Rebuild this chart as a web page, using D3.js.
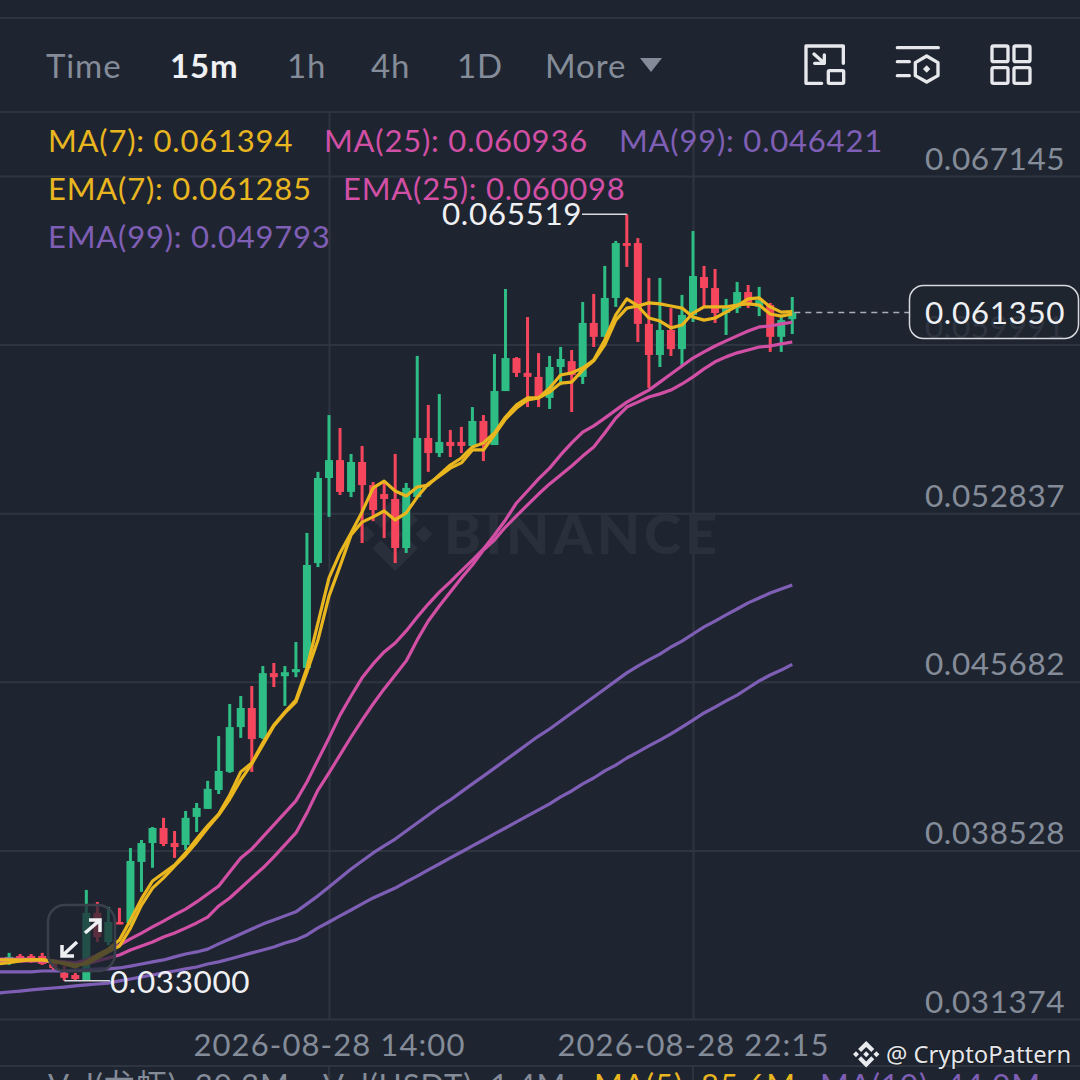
<!DOCTYPE html>
<html>
<head>
<meta charset="utf-8">
<script src="https://cdn.jsdelivr.net/npm/d3@7"></script>
<style>
  html, body { margin: 0; padding: 0; background: #1f2530; overflow: hidden; }
  text { font-family: Lato, "Noto Sans CJK SC", sans-serif; }
</style>
</head>
<body>
<div id="chart"></div>
<script>
// 15m candles, first one is 14:00 minus 30 bars
var open = [0.03392,
  0.03380,0.03405,0.03405,0.03405,0.03371,0.03333,0.03324,0.03303,0.03588,0.03464,
  0.03549,0.03545,0.03804,0.03884,0.03948,0.03884,0.03876,0.03995,0.04029,0.04109,
  0.04186,0.04376,0.04457,0.04330,0.04605,0.04592,0.04609,0.04627,0.05072,0.05433,
  0.05509,0.05374,0.05501,0.05403,0.05365,0.05344,0.05136,0.05352,0.05603,0.05539,
  0.05586,0.05586,0.05569,0.05675,0.05573,0.05802,0.05942,0.05879,0.05862,0.05773,
  0.05904,0.05929,0.05862,0.06091,0.06032,0.06197,0.06430,0.06430,0.06087,0.05955,
  0.06061,0.05980,0.06125,0.06286,0.06239,0.06133,0.06154,0.06222,0.06159,0.06167,
  0.06032,0.06107];
var high = [0.03405,
  0.03418,0.03413,0.03413,0.03418,0.03388,0.03362,0.03333,0.03685,0.03634,0.03613,
  0.03609,0.03863,0.03897,0.03952,0.03991,0.03935,0.04020,0.04054,0.04148,0.04338,
  0.04474,0.04508,0.04550,0.04635,0.04648,0.04635,0.04737,0.05200,0.05459,0.05700,
  0.05645,0.05535,0.05569,0.05416,0.05412,0.05535,0.05412,0.05951,0.05743,0.05789,
  0.05637,0.05650,0.05734,0.05700,0.05959,0.06235,0.05946,0.06116,0.05963,0.05951,
  0.05989,0.05976,0.06180,0.06214,0.06333,0.06439,0.06552,0.06451,0.06282,0.06282,
  0.06154,0.06210,0.06481,0.06333,0.06320,0.06193,0.06265,0.06252,0.06244,0.06176,
  0.06116,0.06201];
var low = [0.03380,
  0.03367,0.03376,0.03376,0.03367,0.03341,0.03300,0.03303,0.03300,0.03464,0.03451,
  0.03540,0.03536,0.03677,0.03779,0.03871,0.03821,0.03855,0.03931,0.04029,0.04092,
  0.04182,0.04330,0.04186,0.04325,0.04546,0.04466,0.04588,0.04618,0.05055,0.05268,
  0.05361,0.05352,0.05157,0.05250,0.05178,0.05072,0.05115,0.05352,0.05459,0.05522,
  0.05522,0.05539,0.05569,0.05505,0.05573,0.05802,0.05862,0.05734,0.05734,0.05726,
  0.05827,0.05713,0.05832,0.05989,0.06032,0.06159,0.06329,0.06010,0.05815,0.05904,
  0.05951,0.05912,0.06095,0.06154,0.06091,0.06040,0.06133,0.06154,0.06120,0.05968,
  0.05968,0.06044];
var close = [0.03388,
  0.03401,0.03380,0.03380,0.03371,0.03354,0.03312,0.03307,0.03588,0.03485,0.03549,
  0.03540,0.03808,0.03884,0.03948,0.03880,0.03867,0.03991,0.04033,0.04114,0.04190,
  0.04376,0.04457,0.04325,0.04605,0.04588,0.04609,0.04622,0.05064,0.05433,0.05509,
  0.05374,0.05501,0.05403,0.05297,0.05344,0.05136,0.05391,0.05603,0.05539,0.05586,
  0.05569,0.05569,0.05675,0.05573,0.05802,0.05942,0.05879,0.05862,0.05773,0.05904,
  0.05938,0.05870,0.06091,0.06032,0.06197,0.06430,0.06418,0.06087,0.05955,0.06061,
  0.05980,0.06125,0.06290,0.06239,0.06133,0.06159,0.06222,0.06176,0.06188,0.06032,
  0.06103,0.06135];

var ema7 = [0.03388,
  0.03388,0.03388,0.03388,0.03388,0.03384,0.03371,0.03358,0.03380,0.03409,0.03434,
  0.03473,0.03557,0.03647,0.03723,0.03757,0.03791,0.03842,0.03901,0.03957,0.04007,
  0.04088,0.04186,0.04224,0.04309,0.04385,0.04440,0.04491,0.04627,0.04818,0.05009,
  0.05115,0.05200,0.05289,0.05391,0.05420,0.05378,0.05357,0.05395,0.05403,0.05446,
  0.05488,0.05518,0.05565,0.05582,0.05624,0.05692,0.05743,0.05773,0.05773,0.05815,
  0.05870,0.05879,0.05900,0.05934,0.06019,0.06125,0.06193,0.06163,0.06112,0.06099,
  0.06070,0.06082,0.06133,0.06159,0.06159,0.06159,0.06167,0.06172,0.06167,0.06129,
  0.06120,0.06129];
var ma7 = [0.03371,
  0.03376,0.03384,0.03388,0.03388,0.03380,0.03376,0.03367,0.03371,0.03396,0.03422,
  0.03447,0.03523,0.03621,0.03693,0.03736,0.03786,0.03833,0.03888,0.03948,0.04003,
  0.04071,0.04152,0.04220,0.04300,0.04381,0.04436,0.04483,0.04610,0.04746,0.04932,
  0.05059,0.05191,0.05246,0.05268,0.05293,0.05255,0.05285,0.05352,0.05408,0.05441,
  0.05475,0.05497,0.05552,0.05552,0.05616,0.05683,0.05730,0.05764,0.05773,0.05798,
  0.05836,0.05840,0.05891,0.05930,0.05998,0.06103,0.06154,0.06163,0.06176,0.06172,
  0.06163,0.06154,0.06116,0.06103,0.06112,0.06137,0.06163,0.06193,0.06197,0.06159,
  0.06137,0.06139];
var ma25 = [0.03392,
  0.03392,0.03392,0.03392,0.03388,0.03384,0.03380,0.03376,0.03388,0.03409,0.03430,
  0.03451,0.03477,0.03502,0.03528,0.03553,0.03579,0.03604,0.03634,0.03668,0.03702,
  0.03761,0.03821,0.03859,0.03910,0.03961,0.04012,0.04063,0.04143,0.04237,0.04330,
  0.04427,0.04508,0.04585,0.04644,0.04695,0.04733,0.04784,0.04843,0.04898,0.04949,
  0.04992,0.05039,0.05085,0.05132,0.05191,0.05255,0.05327,0.05378,0.05429,0.05475,
  0.05531,0.05582,0.05628,0.05654,0.05687,0.05721,0.05755,0.05781,0.05806,0.05840,
  0.05874,0.05908,0.05942,0.05968,0.05993,0.06015,0.06036,0.06057,0.06074,0.06078,
  0.06087,0.06094];
var ema25 = [0.03384,
  0.03384,0.03384,0.03384,0.03384,0.03380,0.03376,0.03371,0.03371,0.03384,0.03396,
  0.03409,0.03430,0.03447,0.03464,0.03485,0.03502,0.03523,0.03545,0.03570,0.03617,
  0.03651,0.03693,0.03736,0.03778,0.03825,0.03876,0.03927,0.04012,0.04109,0.04182,
  0.04258,0.04334,0.04406,0.04474,0.04538,0.04597,0.04657,0.04746,0.04826,0.04890,
  0.04949,0.05009,0.05064,0.05127,0.05170,0.05225,0.05272,0.05319,0.05365,0.05408,
  0.05446,0.05484,0.05526,0.05565,0.05624,0.05687,0.05734,0.05755,0.05777,0.05790,
  0.05806,0.05832,0.05862,0.05896,0.05926,0.05947,0.05964,0.05976,0.05989,0.05993,
  0.06002,0.06010];
var ema99 = [0.03337,
  0.03337,0.03337,0.03337,0.03341,0.03341,0.03341,0.03345,0.03345,0.03350,0.03350,
  0.03354,0.03362,0.03371,0.03380,0.03388,0.03401,0.03413,0.03422,0.03434,0.03456,
  0.03477,0.03498,0.03519,0.03540,0.03557,0.03575,0.03592,0.03626,0.03660,0.03698,
  0.03736,0.03774,0.03808,0.03842,0.03872,0.03901,0.03935,0.03969,0.04003,0.04037,
  0.04067,0.04101,0.04135,0.04168,0.04202,0.04236,0.04270,0.04304,0.04338,0.04368,
  0.04402,0.04436,0.04470,0.04504,0.04538,0.04572,0.04606,0.04635,0.04661,0.04686,
  0.04716,0.04741,0.04771,0.04801,0.04826,0.04852,0.04877,0.04903,0.04924,0.04945,
  0.04962,0.04979];
var ma99 = [0.03248,
  0.03252,0.03256,0.03261,0.03265,0.03269,0.03273,0.03278,0.03282,0.03286,0.03290,
  0.03299,0.03307,0.03316,0.03324,0.03333,0.03341,0.03350,0.03358,0.03371,0.03380,
  0.03392,0.03405,0.03418,0.03430,0.03443,0.03460,0.03473,0.03494,0.03524,0.03549,
  0.03575,0.03600,0.03626,0.03651,0.03672,0.03693,0.03719,0.03744,0.03770,0.03795,
  0.03821,0.03846,0.03872,0.03897,0.03923,0.03948,0.03974,0.03999,0.04025,0.04050,
  0.04080,0.04105,0.04135,0.04160,0.04190,0.04215,0.04245,0.04270,0.04296,0.04321,
  0.04347,0.04376,0.04406,0.04436,0.04461,0.04487,0.04512,0.04542,0.04572,0.04597,
  0.04618,0.04642];

var priceTicks = [0.067145, 0.059991, 0.052837, 0.045682, 0.038528, 0.031374];
var timeTicks = ["2026-08-28 14:00", "2026-08-28 22:15"];
var tabs = ["Time", "15m", "1h", "4h", "1D", "More"];
var lastPrice = 0.06135, highPrice = 0.065519, lowPrice = 0.033;

var bg = "#1f2530", grid = "#2f3540", grey = "#858c99", white = "#eef0f3";
var green = "#2ebd85", red = "#f6465d";
var yellow = "#e9b61f", pink = "#d24fa6", purple = "#7f5fb6";

var logoPath = "M16.624 13.9202l2.7175 2.7154-7.353 7.353-7.353-7.352 2.7175-2.7164 4.6355 4.6595 4.6356-4.6595zm4.6366-4.6366L24 12l-2.7154 2.7164L18.5682 12l2.6924-2.7164zm-9.272.001l2.7163 2.6914-2.7164 2.7174v-.001L9.2721 12l2.7164-2.7154zm-9.2722-.001L5.4088 12l-2.6914 2.6924L0 12l2.7164-2.7164zM11.9885.0115l7.353 7.329-2.7174 2.7154-4.6356-4.6356-4.6355 4.6595-2.7174-2.7154 7.353-7.353z";

var parseTime = d3.utcParse("%Y-%m-%d %H:%M");
var fmtTime = d3.utcFormat("%Y-%m-%d %H:%M");
var t0 = parseTime(timeTicks[0]), t1 = parseTime(timeTicks[1]);
var times = open.map((d, i) => d3.utcMinute.offset(t0, (i - 30) * 15));

var svg = d3.select("#chart").append("svg")
  .attr("width", 1080).attr("height", 1080)
  .style("display", "block");

var x = d3.scaleUtc().domain([t0, t1]).range([329, 693]);
var y = d3.scaleLinear().domain([priceTicks[5], priceTicks[0]]).range([1019, 176]);

svg.append("rect").attr("width", 1080).attr("height", 1080).attr("fill", bg);

// header separators
[18, 112, 1066].forEach(function (yy) {
  svg.append("line").attr("x1", 0).attr("x2", 1080).attr("y1", yy).attr("y2", yy)
    .attr("stroke", grid).attr("stroke-width", 2);
});

// price axis with full width grid
var yAxis = svg.append("g").call(
  d3.axisRight(y).tickValues(priceTicks).tickSize(1080).tickFormat(d3.format(".6f"))
);
yAxis.select(".domain").remove();
yAxis.selectAll("line").attr("stroke", grid).attr("stroke-width", 2);
yAxis.selectAll("text").attr("x", 925).attr("dy", -7)
  .attr("fill", grey).style("font-family", "Lato").style("font-size", "31.5px")
  .style("letter-spacing", "0.6px");

// time axis
var xAxis = svg.append("g").attr("transform", "translate(0,1019)").call(
  d3.axisBottom(x).tickValues([t0, t1]).tickSize(-907).tickFormat(fmtTime)
);
xAxis.select(".domain").remove();
xAxis.selectAll("line").attr("stroke", grid).attr("stroke-width", 2);
xAxis.selectAll("text").attr("y", 37).attr("dy", 0)
  .attr("fill", grey).style("font-family", "Lato").style("font-size", "31px")
  .style("letter-spacing", "1.1px");
[t0, t1].forEach(function (t) {
  svg.append("line").attr("x1", x(t)).attr("x2", x(t)).attr("y1", 1066).attr("y2", 1080)
    .attr("stroke", grid).attr("stroke-width", 2);
});

// watermark
svg.append("path").attr("d", logoPath)
  .attr("transform", "translate(358,497) scale(3.1)")
  .attr("fill", "#2a303b");
svg.append("text").attr("x", 444).attr("y", 554).text("BINANCE")
  .attr("fill", "#2a303b").style("font-size", "56px").style("font-weight", 900)
  .style("letter-spacing", "4px");

// candles
var candles = svg.append("g").selectAll("g").data(times).enter().append("g")
  .attr("fill", (d, i) => close[i] >= open[i] ? green : red);
candles.append("rect")
  .attr("x", d => x(d) - 1.5).attr("width", 3)
  .attr("y", (d, i) => y(high[i]))
  .attr("height", (d, i) => y(low[i]) - y(high[i]));
candles.append("rect")
  .attr("x", d => x(d) - 4).attr("width", 8)
  .attr("y", (d, i) => y(Math.max(open[i], close[i])))
  .attr("height", (d, i) => Math.max(2.5, y(Math.min(open[i], close[i])) - y(Math.max(open[i], close[i]))));

// moving averages
var line = d3.line().x((d, i) => x(times[i])).y(d => y(d));
[[ma99, purple], [ema99, purple], [ema25, pink], [ma25, pink], [ma7, yellow], [ema7, yellow]].forEach(function (s) {
  svg.append("path").datum(s[0]).attr("d", line)
    .attr("fill", "none").attr("stroke", s[1]).attr("stroke-width", 3.2)
    .attr("stroke-linejoin", "round");
});

// high / low markers
var iHigh = high.indexOf(d3.max(high)), iLow = low.indexOf(d3.min(low));
svg.append("line").attr("x1", 582).attr("x2", x(times[iHigh])).attr("y1", y(highPrice)).attr("y2", y(highPrice))
  .attr("stroke", "#d8dade").attr("stroke-width", 1.5);
svg.append("text").attr("x", 442).attr("y", y(highPrice) + 11).text(highPrice.toFixed(6))
  .attr("fill", white).style("font-size", "31.5px").style("letter-spacing", "0.6px");
svg.append("line").attr("x1", x(times[iLow])).attr("x2", 110).attr("y1", y(lowPrice)).attr("y2", y(lowPrice))
  .attr("stroke", "#d8dade").attr("stroke-width", 1.5);
svg.append("text").attr("x", 110).attr("y", y(lowPrice) + 12).text(lowPrice.toFixed(6))
  .attr("fill", white).style("font-size", "31.5px").style("letter-spacing", "0.6px");

// last price tag
svg.append("line").attr("x1", x(times[times.length - 1]) + 2).attr("x2", 909).attr("y1", y(lastPrice)).attr("y2", y(lastPrice))
  .attr("stroke", "#a8adb6").attr("stroke-width", 1.5).attr("stroke-dasharray", "6 5");
svg.append("rect").attr("x", 909.5).attr("y", 285.5).attr("width", 169).attr("height", 53).attr("rx", 14)
  .attr("fill", "rgba(31,37,48,0.86)").attr("stroke", "#d5d8dd").attr("stroke-width", 1.5);
svg.append("text").attr("x", 925).attr("y", y(lastPrice) + 11).text(lastPrice.toFixed(6))
  .attr("fill", white).style("font-size", "31.5px").style("letter-spacing", "0.6px");

// legend
var legend = [
  ["MA(7): 0.061394", 49, 152, yellow], ["MA(25): 0.060936", 325, 152, pink], ["MA(99): 0.046421", 620, 152, purple],
  ["EMA(7): 0.061285", 49, 200, yellow], ["EMA(25): 0.060098", 344, 200, pink],
  ["EMA(99): 0.049793", 49, 248, purple]
];
svg.append("g").selectAll("text").data(legend).enter().append("text")
  .attr("x", d => d[1] - 1).attr("y", d => d[2]).text(d => d[0])
  .attr("fill", d => d[3]).style("font-size", "31px").style("letter-spacing", "0.8px");

// tabs
var tabX = [46, 170, 287, 371, 457, 545];
svg.append("g").selectAll("text").data(tabs).enter().append("text")
  .attr("x", (d, i) => tabX[i]).attr("y", 78).text(d => d)
  .attr("fill", d => d == "15m" ? white : grey)
  .style("font-size", "33px").style("font-weight", d => d == "15m" ? 700 : 400)
  .style("letter-spacing", "0.9px");
svg.append("path").attr("d", "M640 58H662L651 72Z").attr("fill", grey);

// toolbar icons, drawn in 3x coordinates
var icons = svg.append("g").attr("transform", "translate(780,20) scale(0.3333)")
  .attr("fill", "none").attr("stroke", "#e6e8ec").attr("stroke-width", 10)
  .attr("stroke-linecap", "round").attr("stroke-linejoin", "round");
icons.append("path").attr("d", "M125 190H78V78H190V130");
icons.append("rect").attr("x", 145).attr("y", 152).attr("width", 46).attr("height", 38).attr("rx", 3);
icons.append("path").attr("d", "M102 102L133 130M133 105V130H104");
icons.append("path").attr("d", "M352 83H475M352 125H388M352 167H388");
icons.append("path").attr("d", "M440 108L474 128V167L440 186L406 167V128Z");
icons.append("path").attr("d", "M440 136L451 147L440 158L429 147Z").attr("fill", "#e6e8ec").attr("stroke", "none");
[[636, 78], [702, 78], [636, 143], [702, 143]].forEach(function (p) {
  icons.append("rect").attr("x", p[0]).attr("y", p[1]).attr("width", 48).attr("height", 47).attr("rx", 5);
});

// expand button over the candles
svg.append("rect").attr("x", 48).attr("y", 905).attr("width", 67).attr("height", 66).attr("rx", 17)
  .attr("fill", "rgba(31,37,48,0.72)").attr("stroke", "#3a404c").attr("stroke-width", 2.5);
svg.append("path").attr("d", "M77 942L62 956M62 945V956H74M85 933L100 920M89 920H100V932")
  .attr("fill", "none").attr("stroke", "#eef0f3").attr("stroke-width", 3.5);

// cut off volume row
var volRow = [
  ["Vol(龙虾): 30.3M", 48, grey], ["Vol(USDT): 1.4M", 323, grey],
  ["MA(5): 85.6M", 594, yellow], ["MA(10): 44.0M", 820, purple]
];
svg.append("g").selectAll("text").data(volRow).enter().append("text")
  .attr("x", d => d[1]).attr("y", 1096).text(d => d[0])
  .attr("fill", d => d[2]).style("font-size", "31px").style("letter-spacing", "1px");

// reposter tag
svg.append("path").attr("d", logoPath)
  .attr("transform", "translate(853,1041) scale(1.1)").attr("fill", "#e8eaee");
svg.append("text").attr("x", 886).attr("y", 1063).text("@ CryptoPattern")
  .attr("fill", "#e4e6ea").style("font-family", "'Noto Sans'").style("font-size", "23.8px")
  .attr("stroke", "#14181f").attr("stroke-width", 1.5).attr("paint-order", "stroke");
</script>
</body>
</html>
